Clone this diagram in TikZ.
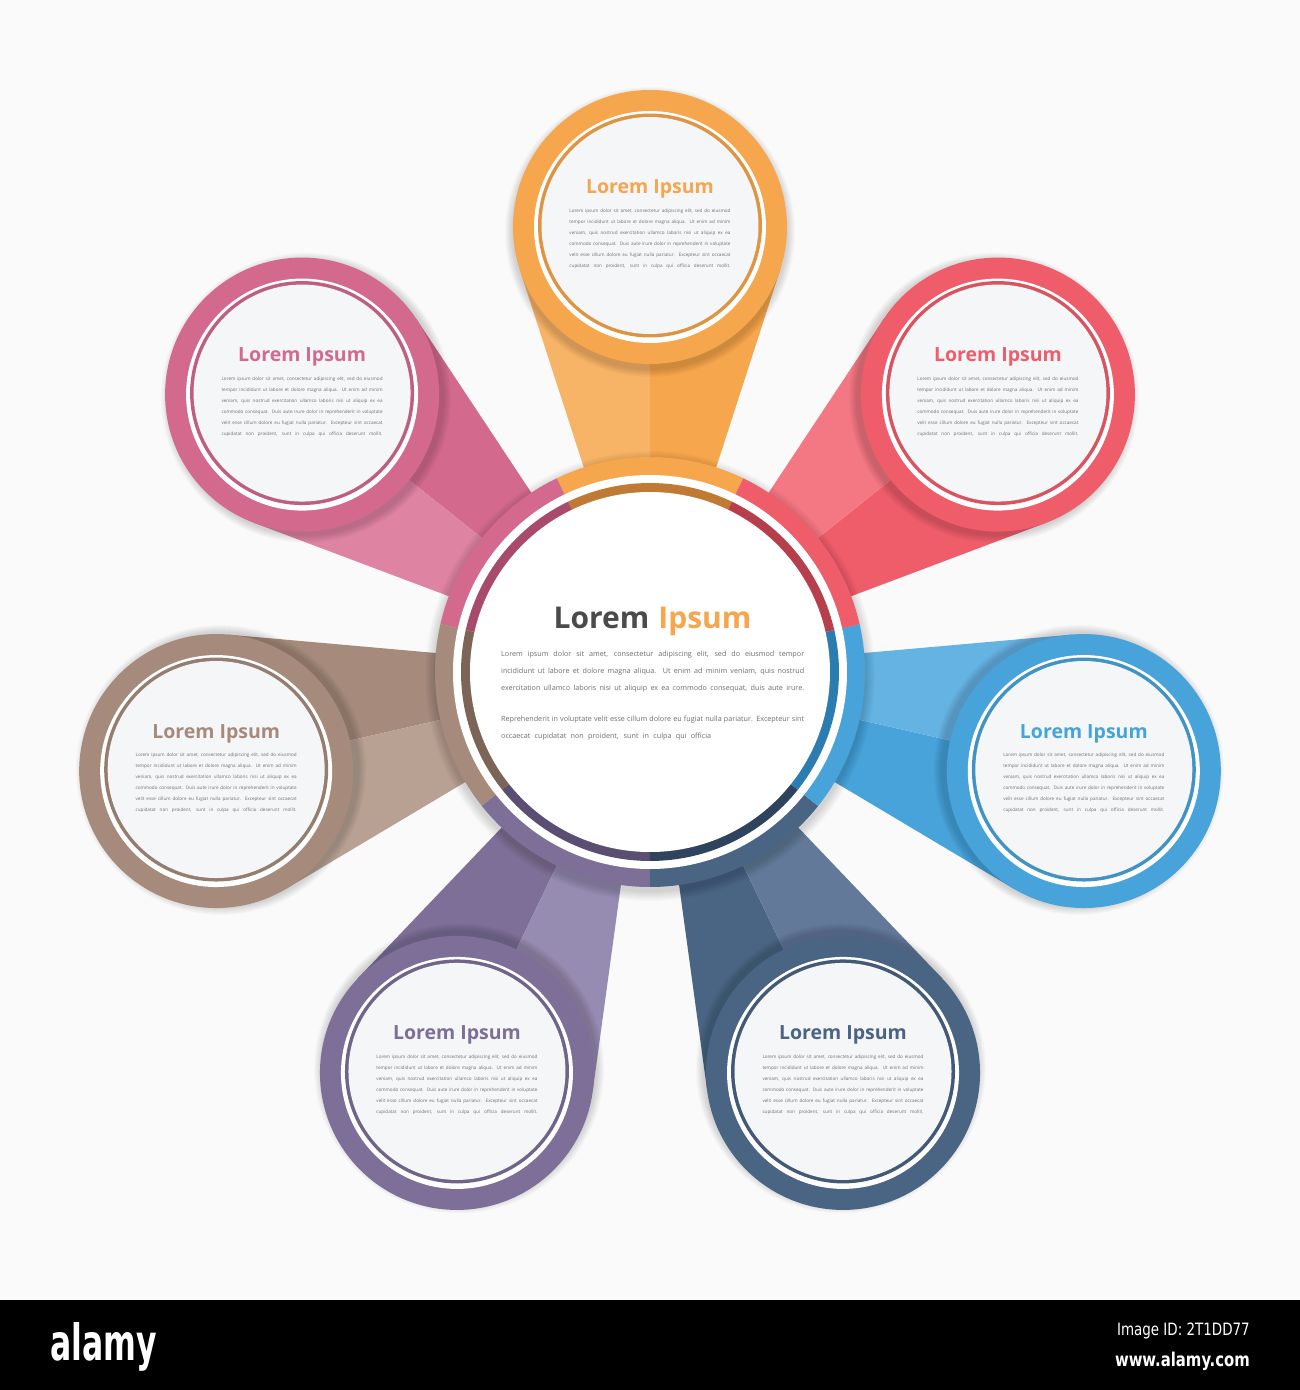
\documentclass[tikz,border=0pt]{standalone}
\usepackage{fontspec}
\setmainfont{Open Sans}
\newfontfamily\logofont{DejaVu Sans Condensed}
\usetikzlibrary{positioning}

% page and text colours
\definecolor{pageBg}{HTML}{FAFAFA}
\definecolor{txtGrey}{HTML}{6E6E70}
\definecolor{hubGrey}{HTML}{4B4B4D}
\definecolor{satFill}{HTML}{F5F6F8}
% petal colours: base, light half, dark inner ring
\definecolor{cOrange}{HTML}{F6A64C}\definecolor{cOrangeL}{HTML}{F8B466}\definecolor{cOrangeD}{HTML}{C07A34}
\definecolor{cPink}{HTML}{D36A8E}\definecolor{cPinkL}{HTML}{DE83A2}\definecolor{cPinkD}{HTML}{A84A6C}
\definecolor{cBrown}{HTML}{A68B7C}\definecolor{cBrownL}{HTML}{B8A193}\definecolor{cBrownD}{HTML}{7C6557}
\definecolor{cPurple}{HTML}{7E6F98}\definecolor{cPurpleL}{HTML}{968BB0}\definecolor{cPurpleD}{HTML}{5A4E72}
\definecolor{cNavy}{HTML}{4A6484}\definecolor{cNavyL}{HTML}{62799A}\definecolor{cNavyD}{HTML}{2E435E}
\definecolor{cBlue}{HTML}{47A3DA}\definecolor{cBlueL}{HTML}{64B3E3}\definecolor{cBlueD}{HTML}{2C7DAF}
\definecolor{cRed}{HTML}{EF5D6B}\definecolor{cRedL}{HTML}{F37883}\definecolor{cRedD}{HTML}{B73F4C}

\newcommand{\satline}[1]{\makebox[161pt][s]{#1}}
\newcommand{\hubline}[1]{\makebox[303pt][s]{#1}}
\newcommand{\petaltext}{%
  \satline{Lorem ipsum dolor sit amet, consectetur adipiscing elit, sed do eiusmod}\\
  \satline{tempor incididunt ut labore et dolore magna aliqua. Ut enim ad minim}\\
  \satline{veniam, quis nostrud exercitation ullamco laboris nisi ut aliquip ex ea}\\
  \satline{commodo consequat. Duis aute irure dolor in reprehenderit in voluptate}\\
  \satline{velit esse cillum dolore eu fugiat nulla pariatur. Excepteur sint occaecat}\\
  \satline{cupidatat non proident, sunt in culpa qui officia deserunt mollit.}}

\begin{document}
\begin{tikzpicture}[x=1pt, y=1pt,
    petTitle/.style={font=\fontsize{19.5}{22}\selectfont\bfseries, inner sep=0pt, anchor=base},
    petBody/.style={font=\fontsize{4.6}{11}\selectfont, text=txtGrey, inner sep=0pt, anchor=north, align=left},
    hubBody/.style={font=\fontsize{7.2}{17}\selectfont, text=txtGrey, inner sep=0pt, anchor=north west, align=left},
    logoText/.style={text=white, inner sep=0pt}]

    % Page
    \fill[pageBg] (-650,-718) rectangle (650,672);
    \useasboundingbox (-650,-718) rectangle (650,672);
    \coordinate (hub) at (0,0);

    % Strips: wedges from the hub, tangent to the satellites
    \foreach \ang/\col in {90/Orange, 141.43/Pink, 192.86/Brown, 244.29/Purple, 295.71/Navy, 347.14/Blue, 38.57/Red} {
        \fill[c\col] (hub) -- (\ang-17.93:423.4) -- (\ang:445) -- cycle;
        \fill[c\col L] (hub) -- (\ang:445) -- (\ang+17.93:423.4) -- cycle;
    }

    % Satellites
    \foreach \ang/\col [count=\i] in {90/Orange, 141.43/Pink, 192.86/Brown, 244.29/Purple, 295.71/Navy, 347.14/Blue, 38.57/Red} {
        \coordinate (sat-\i) at (\ang:445);
        \foreach \k in {1,...,8}
            \fill[black, opacity=0.02] ([shift={(\ang+180:5)}]sat-\i) circle [radius=137+\k];
        \fill[c\col] (sat-\i) circle [radius=137];
        \fill[white] (sat-\i) circle [radius=116];
        \fill[c\col!90!black] ([yshift=1.5pt]sat-\i) circle [radius=112];
        \fill[satFill] ([yshift=1.5pt]sat-\i) circle [radius=108.5];
        \node[petTitle, text=c\col] (title-\i) at ([yshift=33pt]sat-\i) {Lorem Ipsum};
        \node[petBody] (body-\i) at ([yshift=18pt]sat-\i) {\petaltext};
    }

    % Hub
    \foreach \k in {1,...,10}
        \fill[black, opacity=0.015] ([yshift=-4pt]hub) circle [radius=215+\k];
    \foreach \ang/\col in {90/Orange, 141.43/Pink, 192.86/Brown, 244.29/Purple, 295.71/Navy, 347.14/Blue, 38.57/Red} {
        \fill[c\col] (hub) -- (\ang-25.72:215) arc [start angle=\ang-25.72, end angle=\ang+25.72, radius=215] -- cycle;
    }
    \fill[white] (hub) circle [radius=197];
    \foreach \ang/\col in {90/Orange, 141.43/Pink, 192.86/Brown, 244.29/Purple, 295.71/Navy, 347.14/Blue, 38.57/Red} {
        \fill[c\col D] (hub) -- (\ang-25.72:189) arc [start angle=\ang-25.72, end angle=\ang+25.72, radius=189] -- cycle;
    }
    \fill[white] (hub) circle [radius=180];

    \node[font=\fontsize{30}{32}\selectfont\bfseries, inner sep=0pt, anchor=base] (hub-title) at (2.5,44)
        {\textcolor{hubGrey}{Lorem}\hspace{9pt}\textcolor{cOrange}{Ipsum}};
    \node[hubBody] (hub-body) at (-149,21) {%
        \hubline{Lorem ipsum dolor sit amet, consectetur adipiscing elit, sed do eiusmod tempor}\\
        \hubline{incididunt ut labore et dolore magna aliqua. Ut enim ad minim veniam, quis nostrud}\\
        \hubline{exercitation ullamco laboris nisi ut aliquip ex ea commodo consequat, duis aute irure.}\\[14pt]
        \hubline{Reprehenderit in voluptate velit esse cillum dolore eu fugiat nulla pariatur. Excepteur sint}\\
        \makebox[210pt][s]{occaecat cupidatat non proident, sunt in culpa qui officia}};

    % Footer bar
    \fill[black] (-650,-718) rectangle (650,-628);
    \node[logoText, font=\logofont\bfseries\fontsize{50}{52}\selectfont, anchor=base west, xscale=0.7] (logo) at (-600,-688) {alamy};
    \node[logoText, font=\logofont\fontsize{17}{20}\selectfont, anchor=base east, xscale=0.88] (image-id) at (600,-663) {Image ID: 2T1DD77};
    \node[logoText, font=\logofont\bfseries\fontsize{19}{22}\selectfont, anchor=base east, xscale=0.87] (site) at (600,-694) {www.alamy.com};
\end{tikzpicture}
\end{document}
